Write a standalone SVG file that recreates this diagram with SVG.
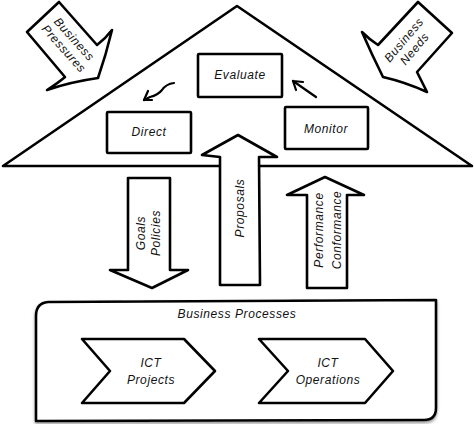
<svg xmlns="http://www.w3.org/2000/svg" width="474" height="424" viewBox="0 0 474 424">
<defs>
<style>
.s{fill:#fff;stroke:#000;stroke-width:2.6;stroke-linejoin:round;stroke-linecap:round}
.l{fill:none;stroke:#000;stroke-width:2.2;stroke-linecap:round;stroke-linejoin:round}
.t{font-family:"Liberation Sans","DejaVu Sans",sans-serif;font-style:italic;font-size:12px;letter-spacing:0.6px;fill:#111;text-anchor:middle}
</style>
<filter id="sh" x="-5%" y="-5%" width="110%" height="115%"><feDropShadow dx="0" dy="2" stdDeviation="1.5" flood-color="#555" flood-opacity="0.6"/></filter>
</defs>
<rect width="474" height="424" fill="#fff"/>

<g id="roof">
<path class="s" d="M3,166 L237,6 L472,166 Z"/>
</g>

<g id="business-pressures">
<path class="s" d="M59,2 L97,45 Q106,38 112,30 Q106,55 98,78 Q70,82 47,90 Q58,83 65,77 L27,32 Z"/>
<g transform="translate(69,44) rotate(48)">
<text class="t" x="0" y="-3">Business</text>
<text class="t" x="0" y="11">Pressures</text>
</g>
</g>

<g id="business-needs">
<path class="s" d="M418,2 L452,33 L417,72 Q422,82 427,92 Q405,82 383,77 Q372,55 362,32 Q370,40 378,45 Z"/>
<g transform="translate(410,45) rotate(-50)">
<text class="t" x="0" y="-4">Business</text>
<text class="t" x="0" y="10">Needs</text>
</g>
</g>

<g id="evaluate">
<rect class="s" x="198" y="54" width="84" height="43" rx="1"/>
<text class="t" x="240" y="79">Evaluate</text>
</g>

<g id="direct">
<rect class="s" x="107" y="112" width="84" height="41" rx="1"/>
<text class="t" x="149" y="136">Direct</text>
</g>

<g id="monitor">
<rect class="s" x="285" y="107" width="83" height="42" rx="1"/>
<text class="t" x="326" y="133">Monitor</text>
</g>

<g id="connectors">
<path class="l" d="M174,83 Q166,84 162,90 Q158,95 150,97 L144,100"/>
<path class="l" d="M144,100 L148,91 M144,100 L152,100"/>
<path class="l" d="M316,97 L293,81"/>
<path class="l" d="M293,81 L303,82 M293,81 L296,90"/>
</g>

<g id="base">
<line class="l" x1="3" y1="166" x2="472" y2="166" stroke-width="2.6"/>
</g>

<g id="goals-policies">
<path class="s" d="M128,178 L170,178 L170,270 L188,270 L152,288 L110,270 L128,270 Z"/>
<g transform="translate(149,233) rotate(-90)">
<text class="t" x="0" y="-4">Goals</text>
<text class="t" x="0" y="11">Policies</text>
</g>
</g>

<g id="proposals">
<path class="s" d="M220,285 L260,285 L259,157 L277,157 L238,135 L202,155 L220,157 Z"/>
<g transform="translate(240,208) rotate(-90)">
<text class="t" x="0" y="4">Proposals</text>
</g>
</g>

<g id="performance-conformance">
<path class="s" d="M307,288 L347,288 L347,195 L364,195 L325,177 L287,195 L307,195 Z"/>
<g transform="translate(328,230) rotate(-90)">
<text class="t" x="0" y="-5">Performance</text>
<text class="t" x="0" y="13">Conformance</text>
</g>
</g>

<g id="business-processes">
<path class="s" filter="url(#sh)" d="M48,302 L436,300 L436,408 Q436,420 424,420 L36,421 L36,316 Q36,303 48,302 Z"/>
<text class="t" x="237" y="318">Business Processes</text>
</g>

<g id="ict-projects">
<path class="s" d="M82,339 L184,339 L215,371 L184,403 L82,403 L110,371 Z"/>
<text class="t" x="151" y="367">ICT</text>
<text class="t" x="151" y="384">Projects</text>
</g>

<g id="ict-operations">
<path class="s" d="M259,339 L365,339 L393,371 L365,403 L259,403 L288,371 Z"/>
<text class="t" x="328" y="367">ICT</text>
<text class="t" x="328" y="384">Operations</text>
</g>
</svg>
